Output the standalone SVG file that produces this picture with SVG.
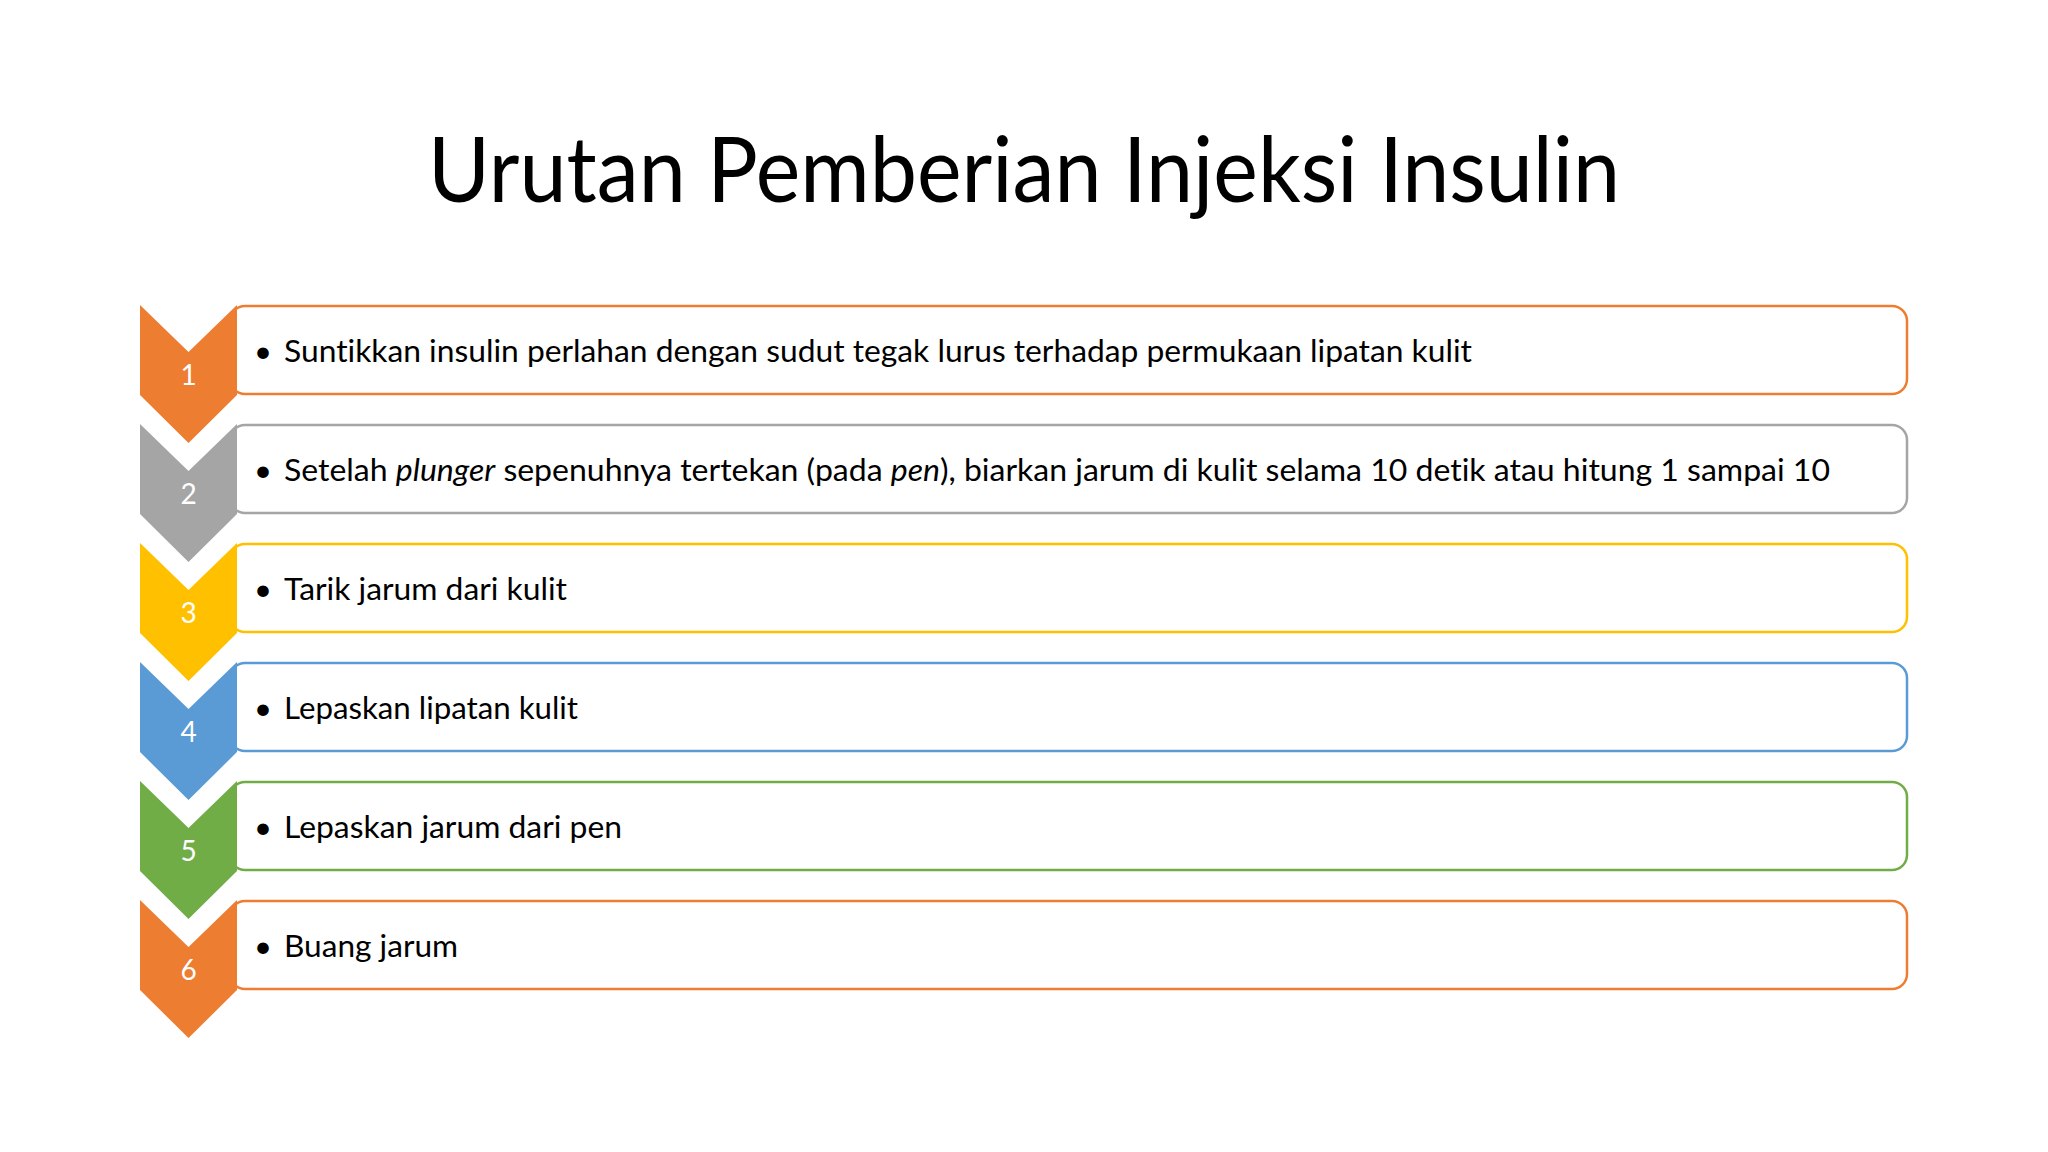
<svg xmlns="http://www.w3.org/2000/svg" width="2048" height="1152" viewBox="0 0 2048 1152">
<style>
text{font-variant-ligatures:none}
.title{font-family:Lato,"Open Sans","Liberation Sans",sans-serif;font-size:92px;fill:#000}
.body{font-family:Lato,"Open Sans","Liberation Sans",sans-serif;font-size:31px;fill:#000}
.num{font-family:Lato,"Open Sans","Liberation Sans",sans-serif;font-size:28px;fill:#fff;text-anchor:middle}
.box{fill:#fff;stroke-width:2.5}
</style>
<defs>
<polygon id="chev" points="140,0 188.5,47 237,0 237,90 188.5,138 140,90"/>
</defs>
<rect width="2048" height="1152" fill="#fff"/>
<text class="title" x="428" y="202" textLength="1192" lengthAdjust="spacingAndGlyphs">Urutan Pemberian Injeksi Insulin</text>

<g id="step1">
<rect class="box" x="230" y="306" width="1677" height="88" rx="15" stroke="#ED7D31"/>
<use href="#chev" y="305" fill="#ED7D31"/>
<text class="num" x="188.5" y="384.5">1</text>
<text class="body" x="254" y="361.5">•</text>
<text class="body" x="284" y="361.5" textLength="1188" lengthAdjust="spacingAndGlyphs">Suntikkan insulin perlahan dengan sudut tegak lurus terhadap permukaan lipatan kulit</text>
</g>

<g id="step2">
<rect class="box" x="230" y="425" width="1677" height="88" rx="15" stroke="#A5A5A5"/>
<use href="#chev" y="424" fill="#A5A5A5"/>
<text class="num" x="188.5" y="503.5">2</text>
<text class="body" x="254" y="480.5">•</text>
<text class="body" x="284" y="480.5" textLength="1546" lengthAdjust="spacingAndGlyphs">Setelah <tspan font-style="italic">plunger</tspan> sepenuhnya tertekan (pada <tspan font-style="italic">pen</tspan>), biarkan jarum di kulit selama 10 detik atau hitung 1 sampai 10</text>
</g>

<g id="step3">
<rect class="box" x="230" y="544" width="1677" height="88" rx="15" stroke="#FFC000"/>
<use href="#chev" y="543" fill="#FFC000"/>
<text class="num" x="188.5" y="622.5">3</text>
<text class="body" x="254" y="599.5">•</text>
<text class="body" x="284" y="599.5" textLength="283" lengthAdjust="spacingAndGlyphs">Tarik jarum dari kulit</text>
</g>

<g id="step4">
<rect class="box" x="230" y="663" width="1677" height="88" rx="15" stroke="#5B9BD5"/>
<use href="#chev" y="662" fill="#5B9BD5"/>
<text class="num" x="188.5" y="741.5">4</text>
<text class="body" x="254" y="718.5">•</text>
<text class="body" x="284" y="718.5" textLength="294" lengthAdjust="spacingAndGlyphs">Lepaskan lipatan kulit</text>
</g>

<g id="step5">
<rect class="box" x="230" y="782" width="1677" height="88" rx="15" stroke="#70AD47"/>
<use href="#chev" y="781" fill="#70AD47"/>
<text class="num" x="188.5" y="860.5">5</text>
<text class="body" x="254" y="837.5">•</text>
<text class="body" x="284" y="837.5" textLength="338" lengthAdjust="spacingAndGlyphs">Lepaskan jarum dari pen</text>
</g>

<g id="step6">
<rect class="box" x="230" y="901" width="1677" height="88" rx="15" stroke="#ED7D31"/>
<use href="#chev" y="900" fill="#ED7D31"/>
<text class="num" x="188.5" y="979.5">6</text>
<text class="body" x="254" y="956.5">•</text>
<text class="body" x="284" y="956.5" textLength="174" lengthAdjust="spacingAndGlyphs">Buang jarum</text>
</g>
</svg>
